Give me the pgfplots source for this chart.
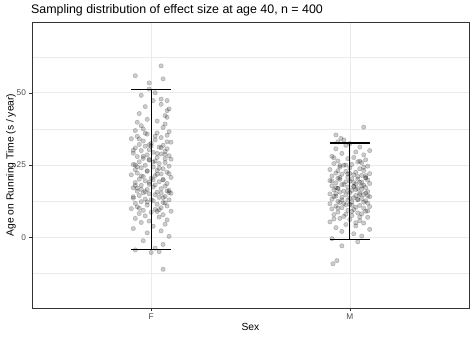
\documentclass[border=0pt]{standalone}
\usepackage{fontspec}
\setmainfont{Liberation Sans}
\usepackage{pgfplots}
\usepackage{pgfplotstable}
\pgfplotsset{compat=1.18}
\definecolor{gridc}{HTML}{EBEBEB}
\definecolor{grayxx}{HTML}{333333}
\definecolor{graytl}{HTML}{4D4D4D}

\pgfplotstableread{
y jit
-11.1 0.06
-5.3 0.00
-5.0 0.04
-4.4 -0.08
-3.8 0.02
-2.5 0.06
-1.2 -0.04
0.3 0.09
1.5 -0.02
2.2 0.05
3.0 -0.09
3.8 0.01
4.5 0.07
5.1 -0.05
5.6 -0.01
6.0 0.08
6.5 -0.08
7.0 0.04
7.4 -0.03
7.8 0.06
8.2 -0.06
8.6 0.00
9.0 0.10
9.3 -0.04
9.6 0.02
9.9 -0.10
10.2 0.05
10.5 -0.07
10.8 0.08
11.1 -0.02
11.4 0.03
11.7 -0.08
12.0 0.06
12.3 -0.05
12.6 0.01
12.9 0.09
13.2 -0.03
13.5 -0.09
13.8 0.04
14.1 0.07
14.4 -0.06
14.7 0.02
15.0 -0.01
15.2 0.10
15.4 -0.04
15.6 0.03
15.9 -0.07
16.2 0.09
16.5 -0.02
16.8 0.05
17.1 -0.09
17.4 0.01
17.7 0.07
18.0 -0.05
18.3 -0.01
18.6 0.08
18.9 -0.08
19.2 0.04
19.5 -0.03
19.8 0.06
20.1 -0.06
20.4 0.00
20.7 0.10
21.0 -0.04
21.3 0.02
21.6 -0.10
21.9 0.05
22.2 -0.07
22.5 0.08
22.8 -0.02
23.1 0.03
23.4 -0.08
23.7 0.06
24.0 -0.05
24.3 0.01
24.6 0.09
24.9 -0.03
25.2 -0.09
25.5 0.04
25.8 0.07
26.1 -0.06
26.4 0.02
26.7 -0.01
27.0 0.10
27.3 -0.04
27.6 0.03
27.9 -0.07
28.2 0.09
28.5 -0.02
28.8 0.05
29.1 -0.09
29.4 0.01
29.7 0.07
30.0 -0.05
30.3 -0.01
30.6 0.08
30.9 -0.08
31.2 0.04
31.5 -0.03
31.8 0.06
32.1 -0.06
32.5 0.00
32.9 0.10
33.3 -0.04
33.7 0.02
34.1 -0.10
34.5 0.05
34.9 -0.07
35.3 0.08
35.7 -0.02
36.1 0.03
36.5 0.09
36.9 -0.08
37.5 -0.04
38.0 0.06
38.6 -0.05
39.2 0.07
39.8 -0.07
40.2 0.03
40.8 -0.02
41.5 0.08
42.1 0.07
42.8 -0.06
43.8 0.08
44.4 0.09
45.2 -0.03
46.0 0.05
47.3 0.01
47.3 0.08
47.8 0.05
49.1 -0.05
50.0 0.02
51.3 -0.01
53.4 -0.01
54.8 0.06
55.9 -0.08
59.3 0.05
8.9 0.03
10.0 -0.06
11.9 0.07
13.0 0.00
14.0 -0.09
15.3 0.05
15.8 -0.03
16.0 0.08
17.0 -0.07
18.1 0.02
19.0 -0.01
20.0 0.06
21.2 -0.05
22.0 0.09
23.0 -0.02
23.9 0.04
25.0 -0.08
26.0 0.01
27.1 0.07
28.0 -0.04
29.0 0.03
30.1 -0.09
31.0 0.05
32.0 -0.01
33.0 0.08
34.0 -0.06
35.0 0.02
36.0 -0.03
13.7 0.06
16.6 -0.05
19.9 0.01
24.4 -0.07
28.6 0.07
31.6 0.00
9.5 0.04
12.2 -0.02
15.5 0.09
17.9 -0.08
21.8 0.03
26.9 -0.01
}\dataF

\pgfplotstableread{
y jit
-9.2 -0.085
-8.1 -0.065
-3.0 -0.04
-1.6 0.04
-0.5 -0.09
0.4 0.06
1.2 0.02
2.0 -0.04
2.7 0.10
3.3 -0.07
3.9 0.03
4.4 -0.02
4.9 0.07
5.3 -0.10
5.7 0.05
6.1 0.00
6.5 -0.05
6.9 0.09
7.2 -0.03
7.5 0.01
7.8 -0.08
8.1 0.06
8.4 0.04
8.7 -0.06
9.0 0.08
9.3 -0.01
9.6 0.02
9.8 -0.09
10.0 0.07
10.2 -0.04
10.4 0.03
10.6 0.10
10.8 -0.07
11.0 0.05
11.2 -0.02
11.4 0.00
11.6 -0.10
11.8 0.09
12.0 -0.05
12.2 0.01
12.4 -0.06
12.6 0.08
12.8 -0.01
13.0 0.04
13.2 -0.09
13.4 0.06
13.6 0.02
13.8 -0.04
14.0 0.10
14.2 -0.07
14.4 0.03
14.6 -0.02
14.8 0.07
15.0 -0.10
15.2 0.05
15.4 0.00
15.6 -0.05
15.8 0.09
16.0 -0.03
16.2 0.01
16.4 -0.08
16.6 0.06
16.8 0.04
17.0 -0.06
17.2 0.08
17.4 -0.01
17.6 0.02
17.8 -0.09
18.0 0.07
18.2 -0.04
18.4 0.03
18.6 0.10
18.8 -0.07
19.0 0.05
19.2 -0.02
19.4 0.00
19.6 -0.10
19.8 0.09
20.0 -0.05
20.2 0.01
20.4 -0.06
20.6 0.08
20.8 -0.01
21.0 0.04
21.2 -0.09
21.4 0.06
21.6 0.02
21.8 -0.04
22.0 0.10
22.2 -0.07
22.5 0.03
22.8 -0.02
23.1 0.07
23.4 -0.10
23.7 0.05
24.0 0.00
24.3 -0.05
24.6 0.09
24.9 -0.03
25.2 0.01
25.5 -0.08
25.8 0.06
26.1 0.04
26.4 -0.06
26.8 0.08
27.2 -0.01
27.6 0.02
28.0 -0.09
28.5 0.07
29.0 -0.04
29.5 0.03
30.0 0.10
30.6 -0.07
31.2 0.05
31.8 -0.02
32.4 0.00
33.0 -0.06
33.7 -0.03
34.2 -0.045
35.4 -0.07
38.1 0.07
5.0 0.03
6.3 -0.08
7.0 0.05
8.0 -0.02
9.1 0.09
10.1 -0.06
11.1 0.01
12.1 0.07
12.9 -0.04
13.5 0.00
14.1 -0.08
14.7 0.05
15.3 0.08
15.9 -0.01
16.5 0.03
17.1 -0.07
17.7 0.06
18.3 -0.03
18.9 0.02
19.5 -0.09
20.1 0.04
20.7 -0.05
21.3 0.08
22.1 0.00
23.0 -0.06
24.2 0.07
25.0 -0.02
26.3 0.05
27.5 -0.08
8.9 0.01
11.7 -0.03
14.3 0.09
16.9 -0.06
19.1 0.06
21.9 -0.01
24.8 -0.05
13.1 0.04
15.1 -0.07
17.5 0.02
20.5 0.08
}\dataM

\begin{document}
\begin{tikzpicture}
\begin{axis}[
  scale only axis, width=437bp, height=286bp,
  xmin=0.4, xmax=2.6, ymin=-24.5, ymax=74.5,
  xtick={1,2}, xticklabels={F,M},
  ytick={0,25,50}, minor ytick={-12.5,12.5,37.5,62.5},
  grid=both,
  major grid style={color=gridc, line width=0.55bp},
  minor grid style={color=gridc, line width=0.3bp},
  axis line style={color=grayxx, line width=0.6bp},
  tick style={color=grayxx, line width=0.5bp},
  tick align=outside, major tick length=2.6bp, minor tick length=0pt,
  tick pos=left,
  ticklabel style={font=\fontsize{8.3bp}{9bp}\selectfont, color=graytl},
  /pgf/number format/assume math mode=true,
  clip=false,
  unbounded coords=jump,
]
\addplot[only marks, mark=*, mark size=2.2bp,
  mark options={fill=black, draw=black, fill opacity=0.2, draw opacity=0.22, line width=0.5bp}]
  table[x expr={1+\thisrow{jit}}, y=y] {\dataF};
\addplot[only marks, mark=*, mark size=2.2bp,
  mark options={fill=black, draw=black, fill opacity=0.2, draw opacity=0.22, line width=0.5bp}]
  table[x expr={2+\thisrow{jit}}, y=y] {\dataM};
\addplot[black, line width=1.1bp] coordinates {
  (0.9,51.1) (1.1,51.1) (1.1,nan) (1,51.1) (1,-4.4) (1,nan) (0.9,-4.4) (1.1,-4.4)};
\addplot[black, line width=1.1bp] coordinates {
  (1.9,32.6) (2.1,32.6) (2.1,nan) (2,32.6) (2,-0.9) (2,nan) (1.9,-0.9) (2.1,-0.9)};
\coordinate (bl) at (rel axis cs:0,0);
\coordinate (tr) at (rel axis cs:1,1);
\node[anchor=base west, font=\fontsize{12.4bp}{14bp}\selectfont, inner sep=0pt] at (rel axis cs:0,1) [xshift=-1bp, yshift=8bp] {Sampling distribution of effect size at age 40, n = 400};
\node[xshift=-21bp, rotate=90, font=\fontsize{10.3bp}{12bp}\selectfont, inner sep=0pt] at (rel axis cs:0,0.5) {Age on Running Time (s / year)};
\node[yshift=-19bp, font=\fontsize{10.3bp}{12bp}\selectfont, inner sep=0pt] at (rel axis cs:0.5,0) {Sex};
\end{axis}
\pgfresetboundingbox
\path[use as bounding box] ([shift={(-32bp,-30bp)}]bl) rectangle ([shift={(5bp,22bp)}]tr);
\end{tikzpicture}
\end{document}
